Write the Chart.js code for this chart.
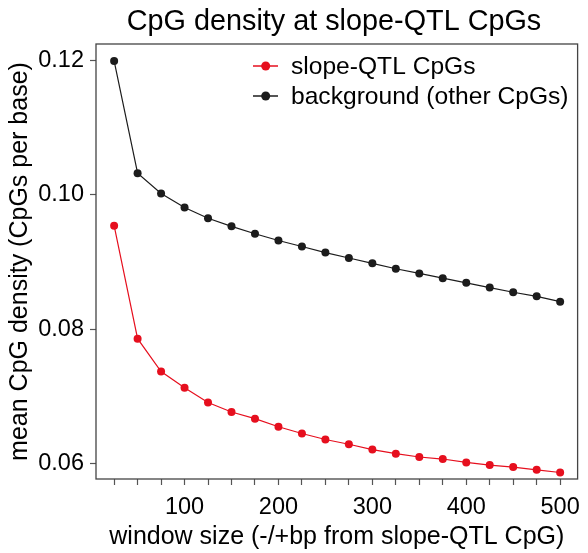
<!DOCTYPE html>
<html>
<head>
<meta charset="utf-8">
<script src="https://cdn.jsdelivr.net/npm/chart.js@4.4.0/dist/chart.umd.min.js"></script>
<style>
  html, body { margin: 0; padding: 0; background: #fff; }
  #wrap { width: 588px; height: 553px; }
</style>
</head>
<body>
<div id="wrap"><canvas id="cpgChart" width="588" height="553"></canvas></div>
<script>
// window sizes (-/+bp)
var windowSizes = [25, 50, 75, 100, 125, 150, 175, 200, 225, 250, 275, 300, 325, 350, 375, 400, 425, 450, 475, 500];

// mean CpG density, slope-QTL CpGs
var qtlDensity = [0.0954, 0.0786, 0.0737, 0.0713, 0.0691, 0.0677, 0.0667, 0.0655, 0.0645, 0.0636,
                  0.0629, 0.0621, 0.0615, 0.0610, 0.0607, 0.0602, 0.0598, 0.0595, 0.0591, 0.0587];

// mean CpG density, background (other CpGs)
var bgDensity = [0.1199, 0.1032, 0.1002, 0.0981, 0.0965, 0.0953, 0.0942, 0.0932, 0.0923, 0.0914,
                 0.0906, 0.0898, 0.0890, 0.0883, 0.0876, 0.0869, 0.0862, 0.0855, 0.0849, 0.0841];

var yTickValues = [0.06, 0.08, 0.10, 0.12];
var xLabelStep = 100;

var FONT = "'Liberation Sans', Arial, Helvetica, sans-serif";
var RED = "#e60f1e";
var BLACK = "#1c1c1c";

function toPoints(xs, ys) {
    return xs.map(function(x, i){ return { x: x, y: ys[i] }; });
}

// box round the plot, titles and legend
var decor = {
    id: "decor",
    afterDraw: function(chart) {
        var c = chart.ctx, a = chart.chartArea;
        c.save();
        c.strokeStyle = "#444";
        c.lineWidth = 1.3;
        c.strokeRect(a.left, a.top, a.right - a.left, a.bottom - a.top);

        c.fillStyle = "#000";
        c.textAlign = "center";
        c.textBaseline = "alphabetic";
        c.font = "28.8px " + FONT;
        c.fillText("CpG density at slope-QTL CpGs", 334, 30);

        c.font = "25px " + FONT;
        c.fillText("window size (-/+bp from slope-QTL CpG)", (a.left + a.right) / 2, 544);

        c.save();
        c.translate(27, (a.top + a.bottom) / 2);
        c.rotate(-Math.PI / 2);
        c.fillText("mean CpG density (CpGs per base)", 0, 0);
        c.restore();

        // legend
        var items = chart.data.datasets;
        c.font = "24.6px " + FONT;
        c.textAlign = "left";
        c.textBaseline = "middle";
        items.forEach(function(ds, i) {
            var y = 66 + i * 30;
            c.strokeStyle = ds.borderColor;
            c.lineWidth = 1.5;
            c.beginPath();
            c.moveTo(253, y);
            c.lineTo(278, y);
            c.stroke();
            c.fillStyle = ds.backgroundColor;
            c.beginPath();
            c.arc(265.7, y, 4.5, 0, Math.PI * 2);
            c.fill();
            c.fillStyle = "#000";
            c.fillText(ds.label, 291, y + 1);
        });
        c.restore();
    }
};

var ctx = document.getElementById("cpgChart");

var chart = new Chart(ctx, {
    type: "line",
    data: {
        datasets: [
            {
                label: "slope-QTL CpGs",
                data: toPoints(windowSizes, qtlDensity),
                borderColor: RED,
                backgroundColor: RED,
                borderWidth: 1.2,
                pointRadius: 4,
                pointBorderWidth: 0,
                tension: 0
            },
            {
                label: "background (other CpGs)",
                data: toPoints(windowSizes, bgDensity),
                borderColor: BLACK,
                backgroundColor: BLACK,
                borderWidth: 1.2,
                pointRadius: 4,
                pointBorderWidth: 0,
                tension: 0
            }
        ]
    },
    options: {
        responsive: false,
        animation: false,
        layout: { padding: { left: 0, top: 44, right: 7, bottom: 0 } },
        plugins: {
            legend: { display: false },
            title: { display: false },
            tooltip: { enabled: false }
        },
        scales: {
            x: {
                type: "linear",
                min: 5.7,
                max: 518.6,
                afterBuildTicks: function(scale) {
                    scale.ticks = windowSizes.map(function(v){ return { value: v }; });
                },
                afterFit: function(scale) { scale.height = 74; },
                ticks: {
                    autoSkip: false,
                    maxRotation: 0,
                    padding: 8,
                    color: "#000",
                    font: { family: FONT, size: 23.5 },
                    callback: function(v) { return v % xLabelStep === 0 ? String(v) : ""; }
                },
                grid: { drawOnChartArea: false, tickLength: 6, color: "#555", tickWidth: 1.2 },
                border: { display: false }
            },
            y: {
                min: 0.05773,
                max: 0.12242,
                afterBuildTicks: function(scale) {
                    scale.ticks = yTickValues.map(function(v){ return { value: v }; });
                },
                afterFit: function(scale) { scale.width = 96; },
                ticks: {
                    padding: 6,
                    color: "#000",
                    font: { family: FONT, size: 23.5 },
                    callback: function(v) { return v.toFixed(2); }
                },
                grid: { drawOnChartArea: false, tickLength: 6, color: "#555", tickWidth: 1.2 },
                border: { display: false }
            }
        }
    },
    plugins: [decor]
});
</script>
</body>
</html>
